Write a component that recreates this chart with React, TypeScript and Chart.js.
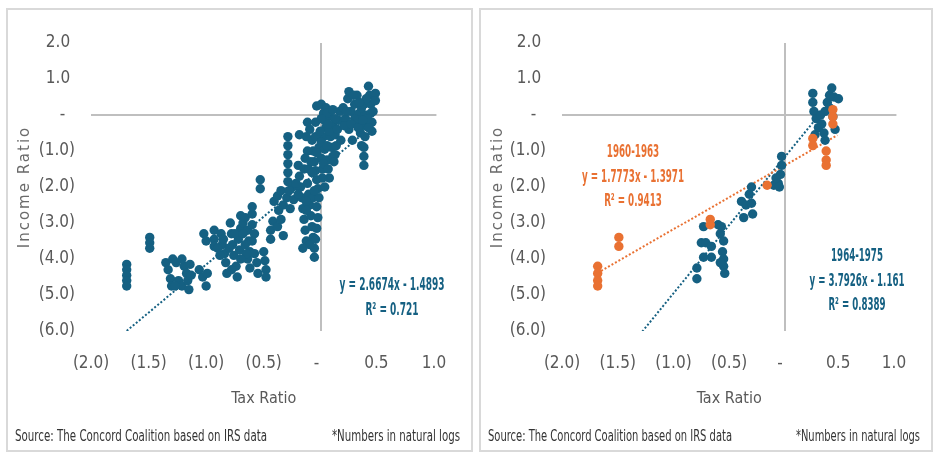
import React, { useEffect, useRef } from "react";
import { Chart, registerables } from "chart.js";

Chart.register(...registerables);

const NARROW = "'Liberation Sans Narrow', 'Arial Narrow', 'DejaVu Sans Condensed', sans-serif";
const WIDE = "'DejaVu Sans', sans-serif";
const BLUE = "#156082";
const ORANGE = "#E97132";
const AXIS_GRAY = "#595959";

// ---------- texts ----------
const Y_TITLE = "Income Ratio";
const X_TITLE = "Tax Ratio";
const SOURCE = "Source: The Concord Coalition based on IRS data";
const NOTE = "*Numbers in natural logs";

// ---------- axes ----------
const X_MIN = -2;
const X_MAX = 1;
const X_STEP = 0.5;
const Y_MIN = -6;
const Y_MAX = 2;
const Y_STEP = 1;

// ---------- data: all years (left panel) ----------
const allYearsPoints: [number, number][] = [
  [-1.69, -4.15], [-1.69, -4.3], [-1.69, -4.45], [-1.69, -4.6], [-1.69, -4.75],
  [-1.49, -3.4], [-1.49, -3.55], [-1.49, -3.7],
  [-1.35, -4.1], [-1.33, -4.3], [-1.31, -4.55], [-1.3, -4.75], [-1.26, -4.1], [-1.24, -4.6],
  [-1.21, -4.75], [-1.19, -4.2], [-1.17, -4.4], [-1.16, -4.6], [-1.15, -4.85], [-1.29, -4.0],
  [-1.21, -4.0], [-1.14, -4.15], [-1.13, -4.45], [-1.27, -4.75],
  [-1.06, -4.3], [-1.03, -4.5], [-1.0, -4.75], [-0.99, -4.4],
  [-1.02, -3.3], [-1.0, -3.5],
  [-0.93, -3.2], [-0.93, -3.45], [-0.93, -3.65], [-0.87, -3.3], [-0.86, -3.6], [-0.84, -3.85],
  [-0.83, -4.1], [-0.82, -4.4], [-0.85, -3.45], [-0.79, -3.0], [-0.78, -3.3], [-0.77, -3.6],
  [-0.76, -3.9], [-0.74, -4.2], [-0.73, -4.5], [-0.72, -3.45], [-0.7, -3.15], [-0.71, -3.75],
  [-0.7, -2.8], [-0.68, -3.0], [-0.66, -2.85], [-0.64, -3.2], [-0.63, -3.5], [-0.62, -3.8],
  [-0.6, -2.75], [-0.6, -3.05], [-0.64, -4.0], [-0.62, -4.25], [-0.58, -3.85], [-0.56, -4.1],
  [-0.55, -4.4], [-0.5, -3.8], [-0.49, -4.05], [-0.48, -4.3], [-0.48, -4.5], [-0.58, -3.3],
  [-0.88, -3.9], [-0.9, -3.7], [-0.8, -3.7], [-0.75, -3.3], [-0.68, -3.3], [-0.66, -3.6],
  [-0.65, -3.85], [-0.6, -3.5], [-0.7, -4.0], [-0.78, -4.3],
  [-0.53, -1.8], [-0.53, -2.05], [-0.6, -2.55],
  [-0.44, -3.2], [-0.42, -2.95], [-0.38, -3.1], [-0.35, -2.9], [-0.33, -3.35], [-0.44, -3.45],
  [-0.41, -2.4], [-0.38, -2.25], [-0.35, -2.1], [-0.33, -2.5], [-0.3, -2.3], [-0.27, -2.6],
  [-0.25, -2.0], [-0.24, -2.35], [-0.37, -2.65],
  [-0.29, -0.6], [-0.29, -0.85], [-0.29, -1.1], [-0.29, -1.35], [-0.29, -1.6], [-0.29, -1.85], [-0.28, -2.1],
  [-0.19, -0.55],
  [-0.2, -1.4], [-0.19, -1.7], [-0.18, -2.0], [-0.17, -2.3], [-0.16, -2.6], [-0.15, -2.9],
  [-0.14, -3.2], [-0.13, -3.5], [-0.12, -1.9], [-0.11, -2.2], [-0.1, -2.5], [-0.09, -2.8],
  [-0.08, -3.1], [-0.07, -3.4], [-0.06, -3.7], [-0.06, -3.95], [-0.1, -3.6], [-0.16, -3.7],
  [-0.2, -2.2], [-0.15, -1.5], [-0.13, -2.65], [-0.07, -2.3], [-0.22, -1.9],
  [-0.04, -2.55], [-0.03, -2.85], [-0.04, -3.15], [-0.05, -3.45],
  [-0.1, -0.4], [-0.08, -0.7], [-0.07, -1.0], [-0.06, -1.3], [-0.05, -1.55], [-0.04, -1.8],
  [-0.03, -2.05], [-0.02, -2.3], [-0.02, -0.9], [0.0, -1.2], [0.01, -1.5], [0.02, -0.6],
  [0.03, -0.95], [0.05, -1.25], [0.04, -0.35], [0.07, -1.75], [0.08, -0.6], [0.09, -0.9],
  [0.1, -1.15], [-0.12, -0.2], [0.13, -0.85], [0.12, -1.1], [0.11, -1.3],
  [-0.13, -0.6], [-0.12, -1.0], [-0.14, -1.2], [-0.11, -1.5], [-0.09, -1.3], [-0.08, -1.6],
  [-0.05, -0.6], [-0.04, -1.05], [-0.01, -0.45], [0.0, -0.75], [0.01, -1.75], [0.03, -2.0],
  [0.02, -1.35], [0.05, -0.85], [0.06, -1.5], [-0.06, -2.1], [-0.13, -2.4],
  [-0.04, 0.25], [0.0, 0.3], [0.04, 0.2], [0.02, 0.05], [0.03, -0.15], [0.06, -0.05],
  [0.08, 0.1], [0.1, -0.3], [0.12, -0.55], [0.15, -0.15], [0.16, 0.1], [0.07, -0.45],
  [0.05, 0.05], [0.1, 0.15], [0.12, -0.1], [0.14, -0.4], [0.17, -0.7], [0.06, -0.25], [0.0, -0.1], [-0.05, -0.2],
  [0.19, 0.2], [0.21, -0.1], [0.23, 0.45], [0.24, -0.4], [0.26, 0.1], [0.27, -0.7],
  [0.29, 0.3], [0.3, -0.2], [0.31, 0.55], [0.33, 0.05], [0.34, -0.5], [0.35, -0.85],
  [0.24, 0.65], [0.37, 0.3], [0.38, 0.0], [0.38, -0.3], [0.38, -0.6], [0.37, -0.9],
  [0.37, -1.15], [0.37, -1.4], [0.41, 0.8], [0.42, 0.55], [0.43, 0.3], [0.43, 0.05],
  [0.44, -0.2], [0.44, -0.45], [0.4, -0.1], [0.47, 0.6], [0.47, 0.4], [0.29, -0.1],
  [0.2, -0.3], [0.22, 0.1], [0.26, -0.25], [0.28, 0.55], [0.32, -0.35], [0.35, 0.2],
  [0.36, -0.15], [0.39, 0.45], [0.41, -0.35], [0.45, 0.1], [0.33, 0.35],
];

// ---------- data: 1964-1975 (right panel, blue) ----------
const years1964to1975: [number, number][] = [
  [-0.79, -4.25], [-0.79, -4.55], [-0.73, -3.1], [-0.75, -3.55], [-0.71, -3.55], [-0.73, -3.95],
  [-0.66, -3.65], [-0.66, -3.95], [-0.6, -3.05], [-0.58, -3.3], [-0.55, -3.5], [-0.56, -3.8],
  [-0.55, -4.0], [-0.55, -4.2], [-0.54, -4.4], [-0.58, -4.1], [-0.57, -3.1],
  [-0.39, -2.4], [-0.35, -2.5], [-0.32, -2.2], [-0.3, -2.0], [-0.29, -2.75], [-0.3, -2.45], [-0.37, -2.85],
  [-0.03, -1.15], [-0.03, -1.4], [-0.04, -1.65], [-0.06, -1.9], [-0.1, -1.95], [-0.05, -2.0], [-0.08, -1.75],
  [0.25, 0.6], [0.25, 0.35], [0.26, 0.1], [0.28, -0.1], [0.3, -0.35], [0.27, -0.55], [0.33, -0.25],
  [0.36, 0.1], [0.38, 0.35], [0.4, 0.55], [0.42, 0.75], [0.44, 0.5], [0.48, 0.45], [0.45, -0.4],
  [0.36, -0.7], [0.35, -0.5], [0.32, 0.0], [0.4, 0.2], [0.43, -0.05],
];

// ---------- data: 1960-1963 (right panel, orange) ----------
const years1960to1963: [number, number][] = [
  [-1.68, -4.2], [-1.68, -4.4], [-1.68, -4.6], [-1.68, -4.75], [-1.49, -3.4], [-1.49, -3.65],
  [-0.67, -2.9], [-0.67, -3.05], [-0.16, -1.95], [0.25, -0.65], [0.25, -0.85],
  [0.37, -1.0], [0.37, -1.25], [0.37, -1.4], [0.43, 0.15], [0.43, -0.05], [0.43, -0.25],
];

// ---------- trendlines (from the displayed equations) ----------
const allSlope = 2.6674;
const allIntercept = -1.4893;
const allRange = [-1.69, 0.47];
const blueSlope = 3.7926;
const blueIntercept = -1.161;
const blueRange = [-1.28, 0.3];
const orangeSlope = 1.7773;
const orangeIntercept = -1.3971;
const orangeRange = [-1.68, 0.47];

const allLabel = ["y = 2.6674x - 1.4893", "R² = 0.721"];
const blueLabel = ["1964-1975", "y = 3.7926x - 1.161", "R² = 0.8389"];
const orangeLabel = ["1960-1963", "y = 1.7773x - 1.3971", "R² = 0.9413"];

function toXY(pts: [number, number][]) {
  return pts.map(([x, y]) => ({ x, y }));
}
function trend(slope: number, intercept: number, range: number[]) {
  return range.map((x) => ({ x, y: slope * x + intercept }));
}
function fmt(v: number) {
  if (Math.abs(v) < 1e-9) return "-  ";
  if (v < 0) return `(${Math.abs(v).toFixed(1)})`;
  return `${v.toFixed(1)} `;
}

function drawScaled(ctx: CanvasRenderingContext2D, text: string, x: number, y: number, font: string, color: string, align: CanvasTextAlign, sx: number) {
  ctx.save();
  ctx.translate(x, y);
  ctx.scale(sx, 1);
  ctx.font = font;
  ctx.fillStyle = color;
  ctx.textAlign = align;
  ctx.textBaseline = "middle";
  ctx.fillText(text, 0, 0);
  ctx.restore();
}
function fitScale(ctx: CanvasRenderingContext2D, text: string, font: string, width: number) {
  ctx.save();
  ctx.font = font;
  const w = ctx.measureText(text).width;
  ctx.restore();
  return Math.min(1, width / w);
}

type Note = { lines: string[]; color: string; x: number; y: number; width: number };
type Footer = { sourceWidth: number; noteWidth: number };

function decorPlugin(notes: Note[], footer: Footer) {
  return {
    id: "decor",
    beforeDraw(chart: any) {
      const ctx = chart.ctx as CanvasRenderingContext2D;
      ctx.save();
      ctx.fillStyle = "#ffffff";
      ctx.fillRect(0, 0, chart.width, chart.height);
      ctx.strokeStyle = "#d9d9d9";
      ctx.lineWidth = 2;
      ctx.strokeRect(1, 1, chart.width - 2, chart.height - 2);
      ctx.restore();
    },
    afterDraw(chart: any) {
      const ctx = chart.ctx as CanvasRenderingContext2D;
      const area = chart.chartArea;
      // y title
      ctx.save();
      ctx.translate(19, (area.top + area.bottom) / 2);
      ctx.rotate(-Math.PI / 2);
      ctx.font = `15px ${WIDE}`;
      (ctx as any).letterSpacing = "2px";
      ctx.fillStyle = "#6a6a6a";
      ctx.textAlign = "center";
      ctx.textBaseline = "middle";
      ctx.fillText(Y_TITLE, 0, 0);
      ctx.restore();
      // footer
      const ff = `16px ${NARROW}`;
      drawScaled(ctx, SOURCE, 9, 429, ff, "#333333", "left", fitScale(ctx, SOURCE, ff, footer.sourceWidth));
      drawScaled(ctx, NOTE, chart.width - 13, 429, ff, "#333333", "right", fitScale(ctx, NOTE, ff, footer.noteWidth));
      // equation labels
      const nf = `bold 17px ${NARROW}`;
      for (const n of notes) {
        const widest = n.lines.reduce((a, b) => (a.length >= b.length ? a : b));
        const sx = fitScale(ctx, widest, nf, n.width);
        n.lines.forEach((t, i) => {
          drawScaled(ctx, t, n.x, n.y + i * 24.5, nf, n.color, "center", sx);
        });
      }
    },
  };
}

function baseOptions(yAxisWidth: number) {
  const tickFont = { family: NARROW, size: 17 };
  return {
    responsive: false,
    animation: false as const,
    devicePixelRatio: 1,
    layout: { padding: { left: 0, right: 30, top: 35, bottom: 0 } },
    plugins: { legend: { display: false }, tooltip: { enabled: false } },
    scales: {
      x: {
        type: "linear" as const,
        position: "bottom" as const,
        min: X_MIN,
        max: X_MAX,
        ticks: {
          stepSize: X_STEP,
          autoSkip: false,
          maxRotation: 0,
          color: AXIS_GRAY,
          font: tickFont,
          padding: 22,
          callback: (v: any) => fmt(Number(v)),
        },
        grid: {
          drawTicks: false,
          lineWidth: 2,
          color: (c: any) => (c.tick && Math.abs(c.tick.value) < 1e-9 ? "#bfbfbf" : "rgba(0,0,0,0)"),
        },
        border: { display: false },
        title: {
          display: true,
          text: X_TITLE,
          color: AXIS_GRAY,
          font: { family: NARROW, size: 16 },
          padding: { top: 0, bottom: 44 },
        },
        afterFit: (s: any) => {
          s.height = 121;
        },
      },
      y: {
        type: "linear" as const,
        min: Y_MIN,
        max: Y_MAX,
        ticks: {
          stepSize: Y_STEP,
          color: AXIS_GRAY,
          font: tickFont,
          padding: 16,
          callback: (v: any) => fmt(Number(v)),
        },
        grid: {
          drawTicks: false,
          lineWidth: 2,
          color: (c: any) => (c.tick && Math.abs(c.tick.value) < 1e-9 ? "#bfbfbf" : "rgba(0,0,0,0)"),
        },
        border: { display: false },
        afterFit: (s: any) => {
          s.width = yAxisWidth;
        },
      },
    },
  };
}

function scatterSet(pts: [number, number][], color: string, order: number) {
  return {
    type: "scatter" as const,
    data: toXY(pts),
    backgroundColor: color,
    borderColor: color,
    pointRadius: 4.7,
    pointBorderWidth: 0,
    order,
  };
}
function trendSet(data: { x: number; y: number }[], color: string, order: number) {
  return {
    type: "line" as const,
    data,
    borderColor: color,
    borderWidth: 2,
    borderDash: [2, 2],
    pointRadius: 0,
    fill: false,
    tension: 0,
    order,
  };
}

function buildLeft() {
  return {
    type: "scatter" as const,
    data: {
      datasets: [
        scatterSet(allYearsPoints, BLUE, 1),
        trendSet(trend(allSlope, allIntercept, allRange), BLUE, 5),
      ],
    },
    options: baseOptions(85),
    plugins: [
      decorPlugin([{ lines: allLabel, color: BLUE, x: 386, y: 278, width: 105 }], { sourceWidth: 252, noteWidth: 128 }),
    ],
  };
}

function buildRight() {
  return {
    type: "scatter" as const,
    data: {
      datasets: [
        scatterSet(years1960to1963, ORANGE, 1),
        scatterSet(years1964to1975, BLUE, 2),
        trendSet(trend(orangeSlope, orangeIntercept, orangeRange), ORANGE, 5),
        trendSet(trend(blueSlope, blueIntercept, blueRange), BLUE, 6),
      ],
    },
    options: baseOptions(83),
    plugins: [
      decorPlugin(
        [
          { lines: orangeLabel, color: ORANGE, x: 154, y: 145, width: 102 },
          { lines: blueLabel, color: BLUE, x: 378, y: 249, width: 95 },
        ],
        { sourceWidth: 244, noteWidth: 124 }
      ),
    ],
  };
}

function Panel({ left, top, width, height, build }: { left: number; top: number; width: number; height: number; build: () => any }) {
  const ref = useRef<HTMLCanvasElement>(null);
  useEffect(() => {
    const chart = new Chart(ref.current as HTMLCanvasElement, build());
    return () => chart.destroy();
  }, []);
  return (
    <canvas
      ref={ref}
      width={width}
      height={height}
      style={{ position: "absolute", left, top, width, height, display: "block" }}
    />
  );
}

export default function App() {
  return (
    <div style={{ position: "fixed", left: 0, top: 0, width: 936, height: 455, background: "#ffffff" }}>
      <Panel left={6} top={8} width={467} height={444} build={buildLeft} />
      <Panel left={479} top={8} width={454} height={444} build={buildRight} />
    </div>
  );
}
